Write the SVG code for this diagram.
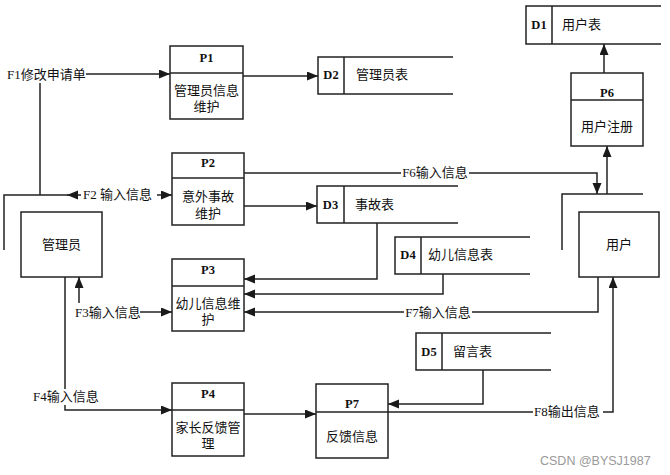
<svg xmlns="http://www.w3.org/2000/svg" width="670" height="475" viewBox="0 0 670 475">
<defs>
<marker id="ah" markerUnits="userSpaceOnUse" markerWidth="12" markerHeight="10" refX="11" refY="4.5" orient="auto">
<path d="M0,0 L11,4.5 L0,9 z" fill="#1a1a1a"/>
</marker>
</defs>
<style>
.box{fill:#fff;stroke:#222;stroke-width:1.5}
.ln{fill:none;stroke:#222;stroke-width:1.5}
.t{font-family:"Liberation Serif","Noto Sans CJK SC",serif;font-size:13px;fill:#111}
.c{text-anchor:middle}
.p{font-family:"Liberation Serif",serif;font-size:12.5px;font-weight:bold;fill:#111;text-anchor:middle}
.d{font-family:"Liberation Serif",serif;font-size:12.5px;font-weight:bold;fill:#111;text-anchor:middle}
.bg{fill:#fff}
.a{fill:none;stroke:#222;stroke-width:1.5;marker-end:url(#ah)}
</style>
<rect width="670" height="475" fill="#fff"/>

<g id="connectors">
<path class="ln" d="M40,195 V83"/>
<path class="a" d="M86,74 H170"/>
<path class="ln" d="M4,250 V195 H68"/>
<path class="a" d="M81,195 H67"/>
<path class="a" d="M157,195 H172"/>
<path class="a" d="M243,76 H318"/>
<path class="a" d="M244,206 H317"/>
<path class="a" d="M244,173 H597 V194"/>
<path class="a" d="M607,194 V146"/>
<path class="a" d="M604,73 V44"/>
<path class="a" d="M377,223 V279 H244"/>
<path class="a" d="M443,274 V294 H244"/>
<path class="a" d="M598,277 V312 H244"/>
<path class="a" d="M79,303 V277"/>
<path class="a" d="M140,312 H172"/>
<path class="a" d="M65,277 V410 H172"/>
<path class="a" d="M244,414 H316"/>
<path class="a" d="M483,370 V404 H388"/>
<path class="a" d="M388,412 H613 V277"/>
<path class="ln" d="M562,250 V194 H643"/>
<rect class="bg" x="401" y="165" width="68" height="16"/>
<text class="t c" x="435" y="177">F6输入信息</text>
<rect class="bg" x="404" y="305" width="68" height="16"/>
<text class="t c" x="438" y="317">F7输入信息</text>
<rect class="bg" x="32" y="389" width="68" height="16"/>
<text class="t" x="33" y="401">F4输入信息</text>
<rect class="bg" x="533" y="404" width="70" height="16"/>
<text class="t" x="534" y="416">F8输出信息</text>
<text class="t" x="7" y="79">F1修改申请单</text>
<text class="t" x="83" y="199">F2 输入信息</text>
<text class="t" x="75" y="317">F3输入信息</text>
</g>

<g id="admin">
<rect class="box" x="21" y="212" width="81" height="65"/>
<text class="t c" x="61.5" y="249">管理员</text>
</g>

<g id="user">
<rect class="box" x="579" y="212" width="80" height="65"/>
<text class="t c" x="619" y="249">用户</text>
</g>

<g id="P1">
<rect class="box" x="170" y="46" width="73" height="73"/>
<path class="ln" d="M170,73 H243"/>
<text class="p" x="206.5" y="62">P1</text>
<text class="t c" x="206.5" y="95">管理员信息</text>
<text class="t c" x="206.5" y="111">维护</text>
</g>

<g id="P2">
<rect class="box" x="172" y="153" width="72" height="72"/>
<path class="ln" d="M172,178 H244"/>
<text class="p" x="208" y="167">P2</text>
<text class="t c" x="208" y="201">意外事故</text>
<text class="t c" x="208" y="218">维护</text>
</g>

<g id="P3">
<rect class="box" x="172" y="259" width="72" height="72"/>
<path class="ln" d="M172,286 H244"/>
<text class="p" x="208" y="274">P3</text>
<text class="t c" x="208" y="308">幼儿信息维</text>
<text class="t c" x="208" y="324">护</text>
</g>

<g id="P4">
<rect class="box" x="172" y="383" width="72" height="73"/>
<path class="ln" d="M172,410 H244"/>
<text class="p" x="208" y="398">P4</text>
<text class="t c" x="208" y="432">家长反馈管</text>
<text class="t c" x="208" y="448">理</text>
</g>

<g id="P6">
<rect class="box" x="571" y="73" width="72" height="73"/>
<path class="ln" d="M571,100 H643"/>
<text class="p" x="607" y="97">P6</text>
<text class="t c" x="607" y="131">用户注册</text>
</g>

<g id="P7">
<rect class="box" x="316" y="384" width="72" height="74"/>
<path class="ln" d="M316,412 H388"/>
<text class="p" x="352" y="408">P7</text>
<text class="t c" x="352" y="441">反馈信息</text>
</g>

<g id="D1">
<path class="ln" d="M661,6 H526 V44 H661 M552,6 V44"/>
<text class="d" x="539" y="29">D1</text>
<text class="t" x="562" y="29">用户表</text>
</g>

<g id="D2">
<path class="ln" d="M453,57 H318 V94 H453 M344,57 V94"/>
<text class="d" x="331" y="79">D2</text>
<text class="t" x="356" y="79">管理员表</text>
</g>

<g id="D3">
<path class="ln" d="M458,186 H317 V223 H458 M344,186 V223"/>
<text class="d" x="330.5" y="209">D3</text>
<text class="t" x="355" y="209">事故表</text>
</g>

<g id="D4">
<path class="ln" d="M530,237 H395 V274 H530 M421,237 V274"/>
<text class="d" x="408" y="259">D4</text>
<text class="t" x="428" y="259">幼儿信息表</text>
</g>

<g id="D5">
<path class="ln" d="M551,333 H416 V370 H551 M442,333 V370"/>
<text class="d" x="429" y="356">D5</text>
<text class="t" x="453" y="356">留言表</text>
</g>

<text x="540" y="465" font-family="Liberation Sans, sans-serif" font-size="12.5" fill="#9a9a9a">CSDN @BYSJ1987</text>
</svg>
